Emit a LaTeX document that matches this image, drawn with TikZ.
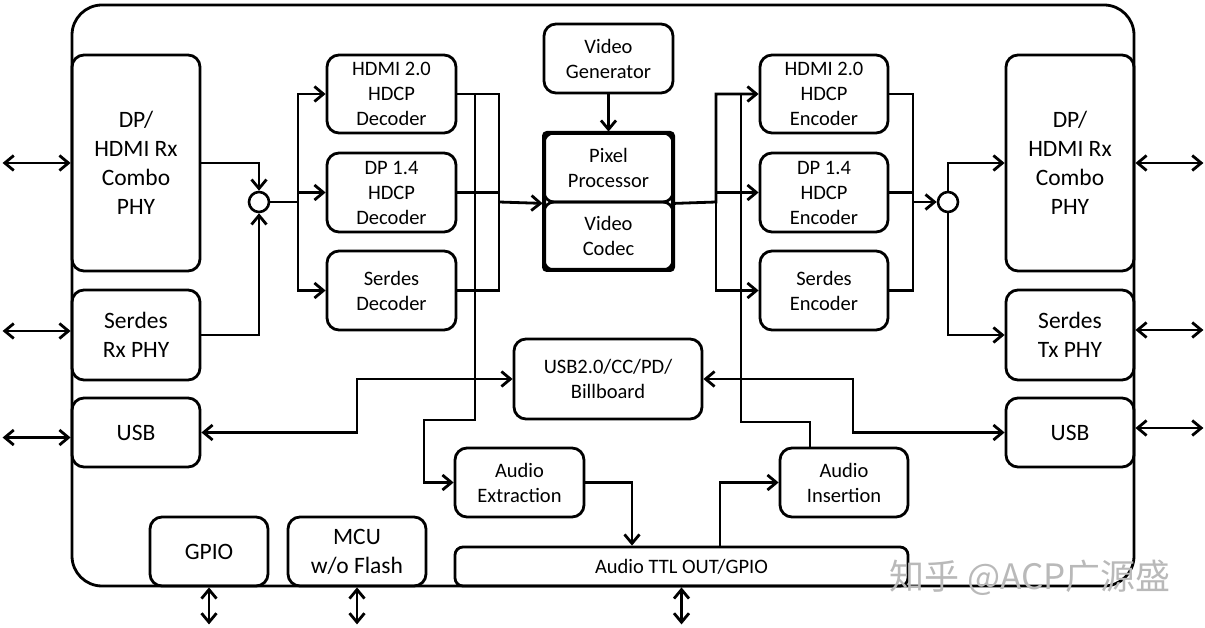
\documentclass[tikz,border=0pt]{standalone}
\usepackage{fontspec}
\setmainfont{Carlito}
\newfontfamily\cjk{Noto Sans CJK SC}
\usetikzlibrary{arrows.meta}
\begin{document}
\begin{tikzpicture}[x=1pt,y=-1pt,line width=2.8pt,
  blk/.style={draw,rounded corners=12pt,align=center,inner sep=0pt,
    font=\fontsize{20.5}{25}\selectfont},
  bigblk/.style={blk,font=\fontsize{23.5}{29}\selectfont},
  junc/.style={draw,circle,minimum size=20pt,inner sep=0pt,line width=2.6pt},
  arr/.style={-{Straight Barb[length=9pt,width=15pt]}},
  darr/.style={{Straight Barb[length=9pt,width=15pt]}-{Straight Barb[length=9pt,width=15pt]}},
  sz/.style n args={2}{minimum width=#1pt,minimum height=#2pt}]
\useasboundingbox (0,0) rectangle (1205,628);
% outer frame
\draw[rounded corners=30pt] (72,5) rectangle (1134,586);
% left column
\node[bigblk,sz={128}{216}] (rxphy) at (136,163) {DP/\\HDMI Rx\\Combo\\PHY};
\node[bigblk,sz={128}{90}] (serrx) at (136,335) {Serdes\\Rx PHY};
\node[bigblk,sz={128}{69}] (usbl) at (136,432.5) {USB};
\node[bigblk,sz={118}{69}] (gpio) at (209,551.5) {GPIO};
\node[bigblk,sz={138}{69}] (mcu) at (357,551.5) {MCU\\w/o Flash};
% right column
\node[bigblk,sz={128}{216}] (txphy) at (1070,163) {DP/\\HDMI Rx\\Combo\\PHY};
\node[bigblk,sz={128}{90}] (sertx) at (1070,335) {Serdes\\Tx PHY};
\node[bigblk,sz={128}{69}] (usbr) at (1070,432.5) {USB};
% decoders
\node[blk,sz={129}{78}] (dec1) at (391.5,94) {HDMI 2.0\\HDCP\\Decoder};
\node[blk,sz={129}{79}] (dec2) at (391.5,192.5) {DP 1.4\\HDCP\\Decoder};
\node[blk,sz={129}{79}] (dec3) at (391.5,290.5) {Serdes\\Decoder};
% encoders
\node[blk,sz={128}{78}] (enc1) at (824,94) {HDMI 2.0\\HDCP\\Encoder};
\node[blk,sz={128}{79}] (enc2) at (824,192.5) {DP 1.4\\HDCP\\Encoder};
\node[blk,sz={128}{79}] (enc3) at (824,290.5) {Serdes\\Encoder};
% centre
\node[blk,sz={129}{69}] (vgen) at (608.5,58.5) {Video\\Generator};
\node[blk,sz={129}{69},rounded corners=10pt] (pix) at (608.5,167.5) {Pixel\\Processor};
\node[blk,sz={129}{68},rounded corners=10pt] (codec) at (608.5,236) {Video\\Codec};
\draw[line width=4pt,rounded corners=3pt] (544,133) rectangle (673,270);
\node[blk,sz={188}{80}] (bb) at (608,379) {USB2.0/CC/PD/\\Billboard};
\node[blk,sz={129}{69}] (audext) at (519.5,482.5) {Audio\\Extraction};
\node[blk,sz={128}{69}] (audins) at (844,482.5) {Audio\\Insertion};
\node[blk,sz={453}{39},rounded corners=8pt] (audiottl) at (681.5,566.5) {Audio TTL OUT/GPIO};
% junctions
\node[junc] (jl) at (259,202) {};
\node[junc] (jr) at (948,202) {};
% coordinates
\coordinate (sl) at (298,202);
\coordinate (ml) at (499,202);
\coordinate (a1) at (475,94);
\coordinate (a2) at (424,420);
\coordinate (sr) at (716,202);
\coordinate (mr) at (913,202);
\coordinate (b1) at (741,94);
\coordinate (b2) at (810,422);
\coordinate (u1) at (357,379);
\coordinate (u2) at (853,379);
\coordinate (x1) at (632,0);
\coordinate (x2) at (720,0);
% input side
\draw[arr] (rxphy.east) -| (jl.north);
\draw[arr] (serrx.east) -| (jl.south);
\draw[arr] (jl.east) -- (sl) |- (dec1.west);
\draw[arr] (sl) |- (dec2.west);
\draw[arr] (sl) |- (dec3.west);
\draw (dec1.east) -| (ml);
\draw (dec2.east) -| (ml);
\draw (dec3.east) -| (ml);
\draw[arr] (ml) -- (pix.south west);
\draw[arr] (a1) |- (a2) |- (audext.west);
\draw[arr] (vgen.south) -- (pix.north);
% output side
\draw[arr] (pix.south east) -- (sr) |- (enc1.west);
\draw[arr] (sr) |- (enc2.west);
\draw[arr] (sr) |- (enc3.west);
\draw (b1) |- (b2) -- (b2 |- audins.north);
\draw (enc1.east) -| (mr);
\draw (enc2.east) -| (mr);
\draw (enc3.east) -| (mr);
\draw[arr] (mr) -- (jr.west);
\draw[arr] (jr.north) |- (txphy.west);
\draw[arr] (jr.south) |- (sertx.west);
% usb
\draw[darr] (usbl.east) -| (u1) -- (bb.west);
\draw[darr] (bb.east) -- (u2) |- (usbr.west);
% audio
\draw[arr] (audext.east) -| (x1 |- audiottl.north);
\draw[arr] (x2 |- audiottl.north) |- (audins.west);
% external
\draw[darr] (rxphy.west) -- ++(-68,0);
\draw[darr] ([yshift=4pt]serrx.west) -- ++(-68,0);
\draw[darr] ([yshift=-5pt]usbl.west) -- ++(-68,0);
\draw[darr] (txphy.east) -- ++(68,0);
\draw[darr] ([yshift=5pt]sertx.east) -- ++(68,0);
\draw[darr] ([yshift=4.5pt]usbr.east) -- ++(68,0);
\draw[darr] (gpio.south) -- ++(0,37);
\draw[darr] (mcu.south) -- ++(0,37);
\draw[darr] (audiottl.south) -- ++(0,37);
% watermark
\node[text=gray!55,font=\cjk\fontsize{35}{35}\selectfont,inner sep=0pt] (wm) at (1030,578) {知乎 @ACP广源盛};
\end{tikzpicture}
\end{document}
